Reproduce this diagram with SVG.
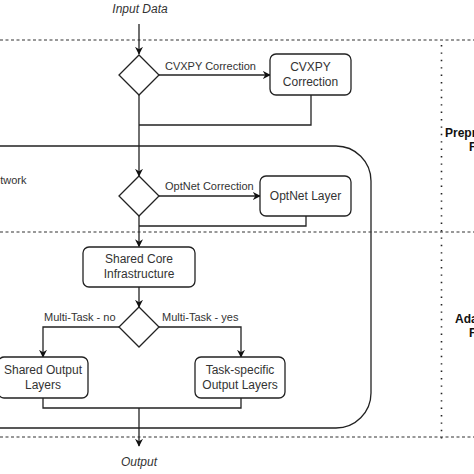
<svg xmlns="http://www.w3.org/2000/svg" width="474" height="474" viewBox="0 0 474 474">
<defs>
<marker id="ah" viewBox="0 0 10 10" refX="9" refY="5" markerWidth="8" markerHeight="8" markerUnits="userSpaceOnUse" orient="auto">
<path d="M0,0 L10,5 L0,10 L3,5 Z" fill="#111"/>
</marker>
<style>
.ln{fill:none;stroke:#222;stroke-width:1.3}
.arr{fill:none;stroke:#222;stroke-width:1.3;marker-end:url(#ah)}
.box{fill:#fff;stroke:#222;stroke-width:1.3}
.dash{fill:none;stroke:#333;stroke-width:1.2;stroke-dasharray:3,2.5}
.dot{fill:none;stroke:#222;stroke-width:1.6;stroke-dasharray:1.4,6}
.t{font-family:"Liberation Sans",Arial,sans-serif;font-size:12px;fill:#333;text-anchor:middle}
.lbl{font-family:"Liberation Sans",Arial,sans-serif;font-size:11px;fill:#333}
.it{font-family:"Liberation Sans",Arial,sans-serif;font-size:12px;fill:#333;font-style:italic;text-anchor:middle}
.b{font-family:"Liberation Sans",Arial,sans-serif;font-size:12px;fill:#111;font-weight:bold}
</style>
</defs>
<g id="frames">
<path class="ln" d="M-20,146 H336 A35,35 0 0 1 371,181 V393 A35,35 0 0 1 336,428 H-20"/>
<line class="dash" x1="0" y1="40" x2="474" y2="40"/>
<line class="dash" x1="0" y1="232" x2="474" y2="232"/>
<line class="dash" x1="0" y1="437" x2="474" y2="437"/>
<line class="dot" x1="441.5" y1="45" x2="441.5" y2="444"/>
<text class="lbl" x="26.5" y="184" text-anchor="end" font-size="12">Network</text>
<text class="b" x="445" y="137">Preprocessing</text>
<text class="b" x="469" y="151">Framework</text>
<text class="b" x="455" y="323">Adaptation</text>
<text class="b" x="469" y="337">Framework</text>
</g>
<g id="connectors">
<line class="arr" x1="139" y1="24" x2="139" y2="54"/>
<line class="arr" x1="159" y1="75" x2="270" y2="75"/>
<polyline class="ln" points="311,95 311,125 139,125"/>
<line class="arr" x1="139" y1="95" x2="139" y2="176"/>
<line class="arr" x1="159" y1="196" x2="260" y2="196"/>
<polyline class="ln" points="306,216 306,226 139,226"/>
<line class="arr" x1="139" y1="216" x2="139" y2="246.5"/>
<line class="arr" x1="139" y1="287" x2="139" y2="307"/>
<polyline class="arr" points="119,327 43,327 43,357"/>
<polyline class="arr" points="159,327 241,327 241,357"/>
<polyline class="ln" points="43,398 43,408 241,408 241,398"/>
<line class="arr" x1="139" y1="408" x2="139" y2="446"/>
<text class="lbl" x="165" y="70">CVXPY Correction</text>
<text class="lbl" x="165" y="190">OptNet Correction</text>
<text class="lbl" x="44" y="321">Multi-Task - no</text>
<text class="lbl" x="162" y="321">Multi-Task - yes</text>
</g>
<g id="input"><text class="it" x="140" y="13">Input Data</text></g>
<g id="output"><text class="it" x="139" y="466">Output</text></g>
<g id="d1"><polygon class="box" points="139,55 159,75 139,95 119,75"/></g>
<g id="cvxpy">
<rect class="box" x="270" y="54" width="81" height="41" rx="6"/>
<text class="t" x="310.5" y="71">CVXPY</text>
<text class="t" x="310.5" y="86">Correction</text>
</g>
<g id="d2"><polygon class="box" points="139,176 159,196 139,216 119,196"/></g>
<g id="optnet">
<rect class="box" x="260" y="176" width="91" height="40" rx="6"/>
<text class="t" x="305.5" y="200">OptNet Layer</text>
</g>
<g id="core">
<rect class="box" x="83" y="247" width="112" height="40" rx="6"/>
<text class="t" x="139" y="263">Shared Core</text>
<text class="t" x="139" y="278">Infrastructure</text>
</g>
<g id="d3"><polygon class="box" points="139,307 159,327 139,347 119,327"/></g>
<g id="sharedout">
<rect class="box" x="-2" y="357" width="90" height="41" rx="6"/>
<text class="t" x="43" y="374">Shared Output</text>
<text class="t" x="43" y="389">Layers</text>
</g>
<g id="taskout">
<rect class="box" x="195" y="357" width="90" height="41" rx="6"/>
<text class="t" x="240" y="374">Task-specific</text>
<text class="t" x="240" y="389">Output Layers</text>
</g>
</svg>
